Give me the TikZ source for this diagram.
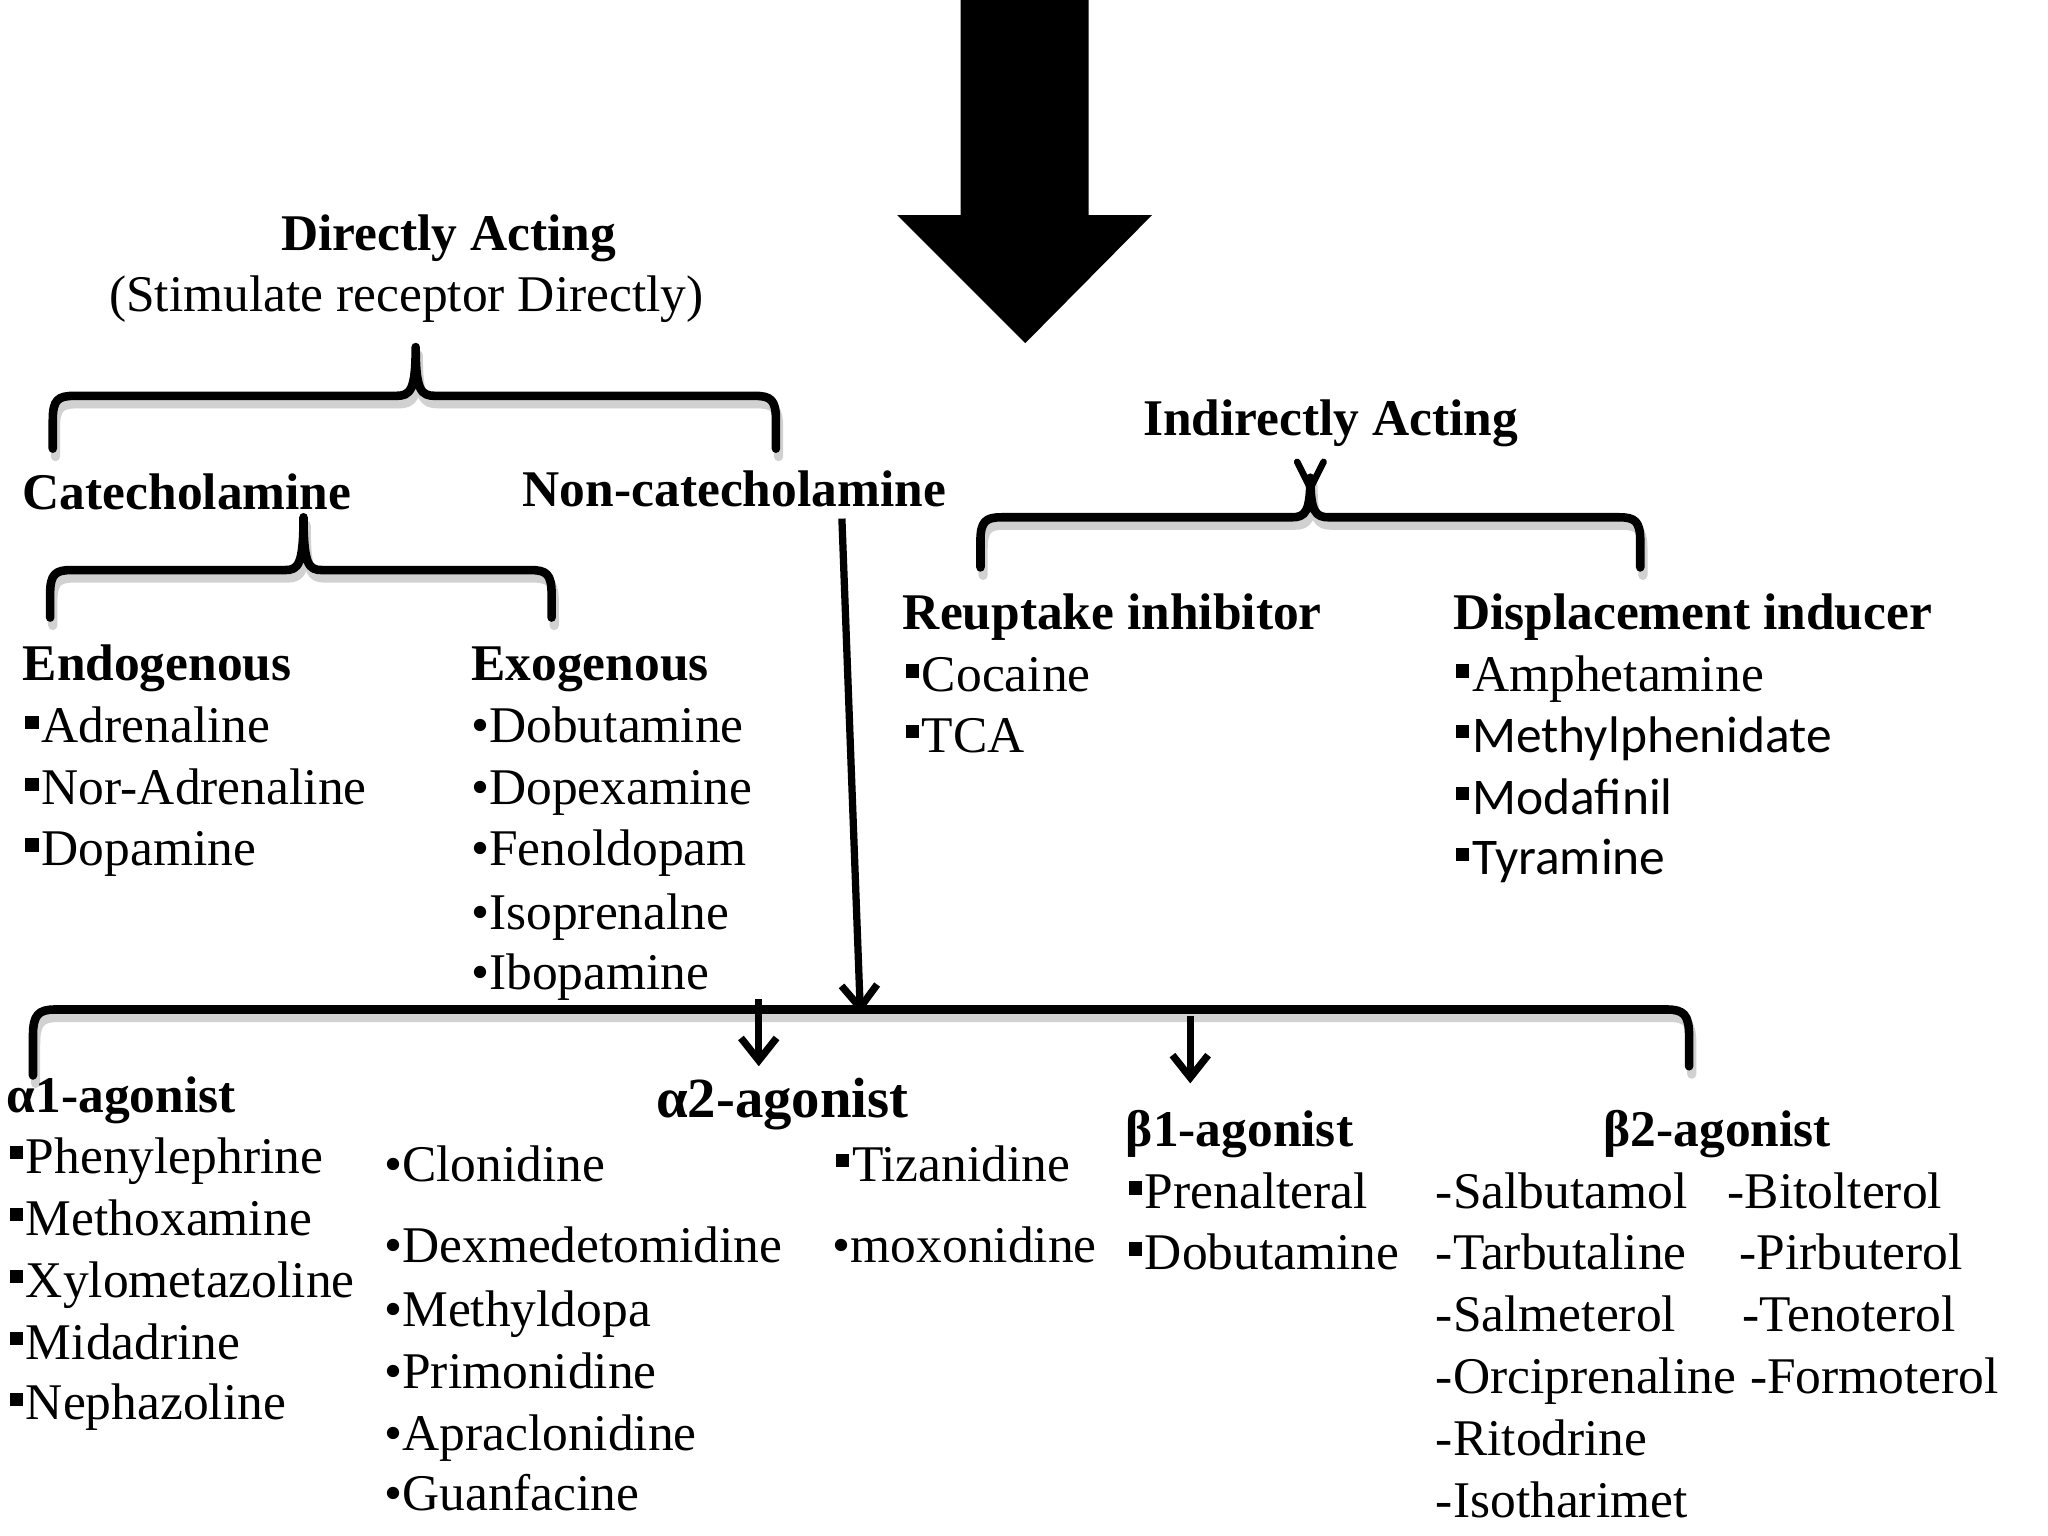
\documentclass[tikz,border=0pt]{standalone}
\usepackage{fontspec}
\setmainfont{Liberation Serif}
\newfontfamily\calib{Carlito}
\usetikzlibrary{arrows.meta}
\newcommand\sqb{\raisebox{0.27em}{\rule{0.26em}{0.26em}}\hspace{0.06em}}
\begin{document}
\begin{tikzpicture}[x=1pt,y=-1pt,
  txt/.style={anchor=base west, inner sep=0pt, font=\fontsize{39}{47}\selectfont},
  hd/.style={anchor=base west, inner sep=0pt, font=\fontsize{39}{47}\selectfont\bfseries},
  brace/.style={line width=6.5pt, line cap=round, line join=round},
  bshadow/.style={line width=7pt, draw=black!18, line cap=round, line join=round},
  thinarrow/.style={line width=5.5pt, -{Straight Barb[length=17pt,width=27pt]}},
]
\fill[white] (0,0) rectangle (1552,1164);
\useasboundingbox (0,0) rectangle (1552,1164);

% big arrow
\fill[black] (728,0) -- (825,0) -- (825,163) -- (873,163) -- (777,260) -- (680,163) -- (728,163) -- cycle;

% brace paths
\def\bracetop{(40,340) -- (40,318) .. controls (40,303) and (44,300) .. (56,300) -- (300,300) .. controls (311,300) and (315,296) .. (315,263)
  (588,340) -- (588,318) .. controls (588,303) and (584,300) .. (572,300) -- (330,300) .. controls (319,300) and (315,296) .. (315,263)}
\def\bracecat{(38,468) -- (38,450) .. controls (38,435) and (42,432) .. (54,432) -- (216,432) .. controls (226,432) and (230,428) .. (230,392)
  (418,468) -- (418,450) .. controls (418,435) and (414,432) .. (402,432) -- (244,432) .. controls (234,432) and (230,428) .. (230,392)}
\def\braceind{(743,430) -- (743,410) .. controls (743,395) and (747,392) .. (759,392) -- (979,392) .. controls (989,392) and (993,388) .. (993,362)
  (1243,430) -- (1243,410) .. controls (1243,395) and (1239,392) .. (1227,392) -- (1007,392) .. controls (997,392) and (993,388) .. (993,362)}
\def\bracebot{(25,815) -- (25,785) .. controls (25,769) and (29,765) .. (42,765) -- (1263,765) .. controls (1276,765) and (1280,769) .. (1280,785) -- (1280,808)}

\begin{scope}[shift={(2,6)}]
  \draw[bshadow] \bracetop;
  \draw[bshadow] \bracecat;
  \draw[bshadow] \braceind;
  \draw[bshadow] \bracebot;
\end{scope}
\draw[brace] \bracetop;
\draw[brace] \bracecat;
\draw[brace] \braceind;
\draw[brace] \bracebot;
% V on the indirect brace cusp
\draw[line width=5pt, line cap=round] (983,350) -- (993,370) -- (1003,350);

% texts
\node[hd, anchor=base] (da) at (340,190) {Directly Acting};
\node[txt, anchor=base] (stim) at (308,236) {(Stimulate receptor Directly)};
\node[hd] (cat) at (17,386) {Catecholamine};
\node[hd] (noncat) at (396,384) {Non-catecholamine};
\node[hd] (ind) at (866,330) {Indirectly Acting};

\node[hd] (reup) at (684,477) {Reuptake inhibitor};
\node[txt] (coc) at (686,524) {\sqb Cocaine};
\node[txt] (tca) at (686,570) {\sqb TCA};

\node[hd] (disp) at (1101,477) {Displacement inducer};
\node[txt] (amph) at (1103,524) {\sqb Amphetamine};
\node[txt] (mph) at (1103,570) {\sqb{\calib Methylphenidate}};
\node[txt] (moda) at (1103,617) {\sqb{\calib Modafinil}};
\node[txt] (tyr) at (1103,663) {\sqb{\calib Tyramine}};

\node[hd] (endo) at (17,516) {Endogenous};
\node[txt] (adr) at (19,563) {\sqb Adrenaline};
\node[txt] (nadr) at (19,610) {\sqb Nor-Adrenaline};
\node[txt] (dop) at (19,656) {\sqb Dopamine};

\node[hd] (exo) at (357,516) {Exogenous};
\node[txt] (dob) at (357,563) {•Dobutamine};
\node[txt] (dpx) at (357,610) {•Dopexamine};
\node[txt] (fen) at (357,656) {•Fenoldopam};
\node[txt] (iso) at (357,704) {•Isoprenalne};
\node[txt] (ibo) at (357,750) {•Ibopamine};

\node[hd] (a1) at (5,843) {α1-agonist};
\node[txt] (phe) at (7,889) {\sqb Phenylephrine};
\node[txt] (met) at (7,936) {\sqb Methoxamine};
\node[txt] (xyl) at (7,983) {\sqb Xylometazoline};
\node[txt] (mid) at (7,1030) {\sqb Midadrine};
\node[txt] (nep) at (7,1076) {\sqb Nephazoline};

\node[hd, font=\fontsize{43}{50}\selectfont\bfseries] (a2) at (497,847) {α2-agonist};
\node[txt] (clo) at (291,895) {•Clonidine};
\node[txt] (dex) at (291,957) {•Dexmedetomidine};
\node[txt] (mdo) at (291,1005) {•Methyldopa};
\node[txt] (pri) at (291,1052) {•Primonidine};
\node[txt] (apr) at (291,1099) {•Apraclonidine};
\node[txt] (gua) at (291,1145) {•Guanfacine};
\node[txt] (tiz) at (633,895) {\sqb Tizanidine};
\node[txt] (mox) at (631,957) {•moxonidine};

\node[hd] (b1) at (853,869) {β1-agonist};
\node[txt] (pre) at (855,916) {\sqb Prenalteral};
\node[txt] (dob2) at (855,962) {\sqb Dobutamine};

\node[hd] (b2) at (1215,869) {β2-agonist};
\node[txt] (sal) at (1088,916) {-Salbutamol};
\node[txt] (tar) at (1088,962) {-Tarbutaline};
\node[txt] (salm) at (1088,1009) {-Salmeterol};
\node[txt] (orc) at (1088,1056) {-Orciprenaline};
\node[txt] (rit) at (1088,1103) {-Ritodrine};
\node[txt] (isot) at (1088,1150) {-Isotharimet};
\node[txt] (bit) at (1309,916) {-Bitolterol};
\node[txt] (pir) at (1318,962) {-Pirbuterol};
\node[txt] (ten) at (1320,1009) {-Tenoterol};
\node[txt] (form) at (1326,1056) {-Formoterol};

% connectors
\coordinate (ncs) at (638,393);
\coordinate (ncend) at (652,768);
\coordinate (a2s) at (575,757);
\coordinate (a2e) at (575,808);
\coordinate (b1s) at (902,770);
\coordinate (b1e) at (902,821);
\draw[thinarrow] (ncs) -- (ncend);
\draw[thinarrow] (a2s) -- (a2e);
\draw[thinarrow] (b1s) -- (b1e);
\end{tikzpicture}
\end{document}
